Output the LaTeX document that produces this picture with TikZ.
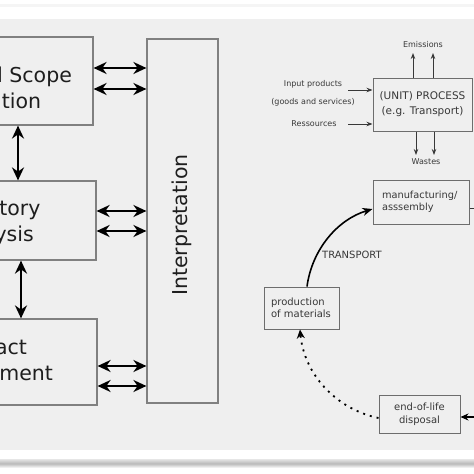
\documentclass[tikz,border=0pt]{standalone}
\usepackage{fontspec}
\setmainfont{DejaVu Sans}
\usetikzlibrary{arrows.meta}
\definecolor{bg}{HTML}{EFEFEF}
\definecolor{bord}{HTML}{808080}
\definecolor{txt}{HTML}{1E1E1E}
\definecolor{rtxt}{HTML}{383838}
\begin{document}
\begin{tikzpicture}[x=1pt,y=-1pt,
 lbox/.style={draw=bord,line width=1.2pt,fill=bg,inner sep=0pt},
 ltext/.style={text=txt,align=center,font=\fontsize{20.5}{26}\selectfont,inner sep=0pt},
 rbox/.style={draw=bord!85!black,line width=1pt,fill=bg,text=rtxt,inner sep=0pt},
 dbl/.style={line width=2pt,{Stealth[length=13pt,width=12pt]}-{Stealth[length=13pt,width=12pt]}},
 sarr/.style={line width=1pt,draw=rtxt,-{Stealth[length=6pt,width=4.5pt]}},
 lbl/.style={text=rtxt,font=\fontsize{8}{18}\selectfont,inner sep=0pt,align=center},
]
\useasboundingbox (0,0) rectangle (474,474);
\clip (0,0) rectangle (474,474);
\fill[white] (0,0) rectangle (474,474);
\fill[gray!8] (0,4) rectangle (474,7);
\fill[bg] (0,19) rectangle (474,450);
\shade[top color=gray!20, bottom color=white, middle color=gray!55] (0,459) rectangle (474,468);

% left column
\node[lbox,minimum width=203pt,minimum height=88pt] (b1) at (-8.5,81) {};
\node[ltext] (b1t) at (-8.5,88.2) {Goal and Scope\\Definition};
\node[lbox,minimum width=209pt,minimum height=79pt] (b2) at (-8.5,220.5) {};
\node[ltext] (b2t) at (-8.5,222.9) {Inventory\\Analysis};
\node[lbox,minimum width=211pt,minimum height=86pt] (b3) at (-8.5,362) {};
\node[ltext] (b3t) at (-8.5,360.5) {Impact\\Assessment};
\node[lbox,minimum width=71pt,minimum height=364pt] (interp) at (182.5,221) {};
\node[ltext,rotate=90] (interpt) at (182,225) {Interpretation};

\coordinate (a1) at (0,68);
\coordinate (a2) at (0,89);
\coordinate (a3) at (0,211);
\coordinate (a4) at (0,231);
\coordinate (a5) at (0,366);
\coordinate (a6) at (0,386);
\foreach \c/\b in {a1/b1,a2/b1,a3/b2,a4/b2,a5/b3,a6/b3}
  \draw[dbl] (\c -| \b.east) -- (\c -| interp.west);
\coordinate (v1) at (18,0);
\coordinate (v2) at (21,0);
\draw[dbl] (v1 |- b1.south) -- (v1 |- b2.north);
\draw[dbl] (v2 |- b2.south) -- (v2 |- b3.north);

% right: unit process
\node[rbox,minimum width=99pt,minimum height=53pt,align=center,font=\fontsize{10.5}{15}\selectfont] (proc) at (422.5,104.5) {(UNIT) PROCESS\\(e.g. Transport)};
\node[lbl] (em) at (423,45) {Emissions};
\node[lbl] (wa) at (426,162) {Wastes};
\node[lbl] (inp) at (313,93) {Input products\\(goods and services)};
\node[lbl] (res) at (314,124) {Ressources};
\coordinate (e1) at (413,53);
\coordinate (e2) at (433,53);
\draw[sarr] (e1 |- proc.north) -- (e1);
\draw[sarr] (e2 |- proc.north) -- (e2);
\coordinate (w1) at (416,155);
\coordinate (w2) at (434,155);
\draw[sarr] (w1 |- proc.south) -- (w1);
\draw[sarr] (w2 |- proc.south) -- (w2);
\coordinate (i1) at (348,90);
\coordinate (i2) at (348,124);
\draw[sarr] (i1) -- (i1 -| proc.west);
\draw[sarr] (i2) -- (i2 -| proc.west);

% life cycle
\node[rbox,minimum width=96pt,minimum height=44pt,text width=78pt,align=left,font=\fontsize{9.8}{12}\selectfont] (mfg) at (421,202) {manufacturing/\\asssembly};
\node[rbox,minimum width=75pt,minimum height=42pt,text width=61pt,align=left,font=\fontsize{10}{12}\selectfont] (prod) at (301.5,308) {production\\of materials};
\node[rbox,minimum width=81pt,minimum height=38pt,align=center,font=\fontsize{10}{13}\selectfont] (eol) at (419.5,414) {end-of-life\\disposal};
\node[anchor=west,text=rtxt,font=\fontsize{10}{12}\selectfont,inner sep=0pt] (tr) at (322,255) {TRANSPORT};

\draw[line width=1.6pt,-{Stealth[length=10pt,width=8pt]}] ([xshift=5.5pt]prod.north) .. controls +(5,-37) and +(-35,10.5) .. ([yshift=-7pt]mfg.west);
\draw[line width=1.8pt,dash pattern=on 2pt off 5pt,-{Stealth[length=9pt,width=8pt]}] ([yshift=-4pt]eol.west) .. controls +(-43,-9) and +(4,44) .. ([xshift=-1.5pt]prod.south);
\coordinate (mr) at (474,208);
\draw[line width=1pt,draw=rtxt] (mr -| mfg.east) -- (mr);
\coordinate (er) at (474,417);
\draw[line width=1.4pt,-{Stealth[length=8pt,width=7pt]}] (er) -- (er -| eol.east);
\end{tikzpicture}
\end{document}
